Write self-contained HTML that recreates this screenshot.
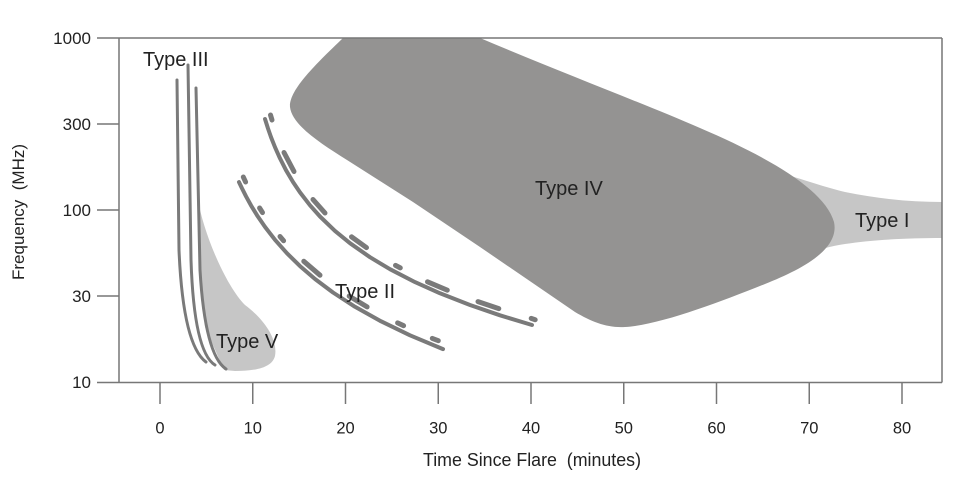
<!DOCTYPE html>
<html>
<head>
<meta charset="utf-8">
<style>
  html, body { margin:0; padding:0; background:#ffffff; }
  svg { display:block; }
  text { font-family: "Liberation Sans", Arial, sans-serif; }
</style>
</head>
<body>
<svg width="968" height="491" viewBox="0 0 968 491" xmlns="http://www.w3.org/2000/svg">
  <rect x="0" y="0" width="968" height="491" fill="#ffffff"/>

  <!-- Type I (light) -->
  <path d="M770,170 C800,178 820,186 845,192 C880,199 910,202 942,202 L942,238 C905,238 870,240 845,244 C825,247 810,252 790,262 Z" fill="#c6c6c6"/>

  <!-- Type IV (dark) -->
  <path d="M343,38 L480,38 C560,72 640,102 700,128 C770,158 825,190 834,222 C840,250 800,270 765,284 C720,302 660,325 625,327 C607,328 592,322 575,312 L480,247 L413,202 L380,181 L347,160 C320,143 292,125 290,107 C289,90 315,65 343,38 Z" fill="#949392"/>

  <!-- Type V (light) -->
  <path d="M197,196 C205,240 228,288 245,305 C265,320 278,340 275,356 C272,368 255,371 235,371 L224,370 L205,327 L200,270 Z" fill="#c6c6c6"/>

  <!-- Type III lines -->
  <g fill="none" stroke="#7a7a7a" stroke-width="3" stroke-linecap="round">
    <path d="M177,80 L179,250 Q183,345 206,362"/>
    <path d="M188,65 L191,260 Q194,352 215,365"/>
    <path d="M196,88 L200,270 Q205,355 226,369"/>
  </g>

  <!-- Type II solid lines -->
  <g fill="none" stroke="#7a7a7a" stroke-width="4" stroke-linecap="round" stroke-linejoin="round">
    <polyline points="265,119 268,128.5 271,137.1 275,147.2 280,158.4 286,170.2 293,182 300,192.4 310,205.3 320,216.5 335,230.9 350,243.2 370,257.2 390,269.2 415,282.1 440,293.3 470,305 500,315.3 532,325"/>
    <polyline points="239,182.1 242,188.4 246,196.3 251,205.4 257,215.2 265,226.9 275,239.8 287,253.3 300,266.1 315,279 333,292.5 355,306.8 380,320.8 410,335.3 443,349.1"/>
  </g>

  <!-- Type II dashes -->
  <g fill="none" stroke="#7a7a7a" stroke-width="5" stroke-linecap="round">
    <line x1="270.5" y1="115" x2="272" y2="120"/>
    <line x1="284" y1="152.5" x2="294" y2="171.5"/>
    <line x1="313" y1="199.5" x2="325" y2="213"/>
    <line x1="351.5" y1="236.8" x2="366.5" y2="247.6"/>
    <line x1="395.5" y1="265.4" x2="400.3" y2="267.9"/>
    <line x1="427.5" y1="281.8" x2="447.3" y2="290.2"/>
    <line x1="478" y1="301.6" x2="498.8" y2="308.6"/>
    <line x1="531.2" y1="318.4" x2="535.2" y2="319.7"/>

    <line x1="243.3" y1="177" x2="245.6" y2="182"/>
    <line x1="259.6" y1="208" x2="262.5" y2="212.6"/>
    <line x1="280" y1="236.5" x2="283.6" y2="240.7"/>
    <line x1="303.8" y1="261.3" x2="320" y2="275.2"/>
    <line x1="349.2" y1="296.1" x2="367.1" y2="306.9"/>
    <line x1="397.6" y1="322.9" x2="403.6" y2="325.7"/>
    <line x1="432.3" y1="338.4" x2="438.3" y2="340.7"/>
  </g>

  <!-- In-plot labels -->
  <g font-size="20" fill="#222222">
    <text x="143" y="66">Type III</text>
    <text x="535" y="195">Type IV</text>
    <text x="335" y="298">Type II</text>
    <text x="216" y="348">Type V</text>
    <text x="855" y="227">Type I</text>
  </g>

  <!-- Frame -->
  <g stroke="#777777" stroke-width="1.5" fill="none">
    <line x1="97" y1="38" x2="942" y2="38"/>
    <line x1="97" y1="382.5" x2="942" y2="382.5"/>
    <line x1="119" y1="38" x2="119" y2="382.5"/>
    <line x1="942" y1="38" x2="942" y2="382.5"/>
    <!-- y ticks -->
    <line x1="97" y1="124" x2="119" y2="124"/>
    <line x1="97" y1="210" x2="119" y2="210"/>
    <line x1="97" y1="296" x2="119" y2="296"/>
    <!-- x ticks -->
    <line x1="160" y1="382.5" x2="160" y2="404"/>
    <line x1="252.75" y1="382.5" x2="252.75" y2="404"/>
    <line x1="345.5" y1="382.5" x2="345.5" y2="404"/>
    <line x1="438.25" y1="382.5" x2="438.25" y2="404"/>
    <line x1="531" y1="382.5" x2="531" y2="404"/>
    <line x1="623.75" y1="382.5" x2="623.75" y2="404"/>
    <line x1="716.5" y1="382.5" x2="716.5" y2="404"/>
    <line x1="809.25" y1="382.5" x2="809.25" y2="404"/>
    <line x1="902" y1="382.5" x2="902" y2="404"/>
  </g>

  <!-- Y tick labels -->
  <g font-size="17" fill="#222222" text-anchor="end">
    <text x="91" y="44">1000</text>
    <text x="91" y="130">300</text>
    <text x="91" y="216">100</text>
    <text x="91" y="302">30</text>
    <text x="91" y="388">10</text>
  </g>

  <!-- X tick labels -->
  <g font-size="16.5" fill="#222222" text-anchor="middle">
    <text x="160" y="433.5">0</text>
    <text x="252.75" y="433.5">10</text>
    <text x="345.5" y="433.5">20</text>
    <text x="438.25" y="433.5">30</text>
    <text x="531" y="433.5">40</text>
    <text x="623.75" y="433.5">50</text>
    <text x="716.5" y="433.5">60</text>
    <text x="809.25" y="433.5">70</text>
    <text x="902" y="433.5">80</text>
  </g>

  <!-- Axis titles -->
  <text x="423" y="466" font-size="18.5" fill="#222222" textLength="218" lengthAdjust="spacingAndGlyphs" xml:space="preserve">Time Since Flare  (minutes)</text>
  <text transform="translate(24,212) rotate(-90)" text-anchor="middle" font-size="17" fill="#222222" xml:space="preserve">Frequency  (MHz)</text>
</svg>
</body>
</html>
